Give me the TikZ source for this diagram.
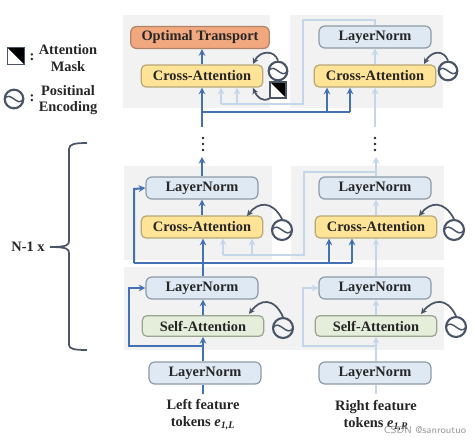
\documentclass[tikz,border=0pt]{standalone}
\usepackage{amsmath,amssymb}
\usepackage{fontspec}
\setmainfont{Liberation Serif}
\usetikzlibrary{positioning,arrows.meta,calc}
\definecolor{panelgray}{HTML}{F2F2F2}
\definecolor{darkflow}{HTML}{4470B4}
\definecolor{lightflow}{HTML}{C3D6EA}
\definecolor{iconslate}{HTML}{4A5568}
\definecolor{normfill}{HTML}{DFE9F4}
\definecolor{normedge}{HTML}{8E9AA8}
\definecolor{crossfill}{HTML}{FFE497}
\definecolor{crossedge}{HTML}{B8A878}
\definecolor{selffill}{HTML}{E4EEDB}
\definecolor{selfedge}{HTML}{9AA590}
\definecolor{otfill}{HTML}{F2A87E}
\definecolor{otedge}{HTML}{B08468}
\tikzset{
  every node/.style={font=\bfseries\fontsize{10.8}{12.4}\selectfont, text=black!85},
  block/.style={rounded corners=3.5pt, draw=#1, line width=0.9pt, inner sep=0pt, minimum height=16.5pt},
  normbox/.style={block=normedge, fill=normfill, minimum width=84pt, rounded corners=4.5pt},
  crossbox/.style={block=crossedge, fill=crossfill, minimum width=91pt},
  selfbox/.style={block=selfedge, fill=selffill, minimum width=91pt, minimum height=15.5pt},
  otbox/.style={block=otedge, fill=otfill, minimum width=104pt, rounded corners=4.5pt},
  panel/.style={fill=panelgray, draw=none},
  darkline/.style={darkflow, line width=1.5pt},
  lightline/.style={lightflow, line width=1.5pt},
  darkarrow/.style={darkline, -{Stealth[length=5pt,width=5pt]}},
  lightarrow/.style={lightline, -{Stealth[length=5pt,width=5pt]}},
  penc/.style={circle, draw=iconslate, line width=1.6pt, minimum size=#1, inner sep=0pt,
    path picture={\draw[iconslate, line width=1.1pt]
      (path picture bounding box.west) .. controls +(0.3*#1,0.5*#1) and +(-0.3*#1,-0.5*#1) .. (path picture bounding box.east);}},
  penc/.default=14pt,
  mask/.style={rectangle, draw=iconslate, line width=1.1pt, fill=white, minimum size=12pt, inner sep=0pt,
    path picture={\fill[black] (path picture bounding box.north west) -- (path picture bounding box.north east)
      -- (path picture bounding box.south east) -- cycle;}},
  curl/.style={iconslate, line width=1.3pt, -{Stealth[length=4.5pt,width=4.5pt]}},
  dotdot/.style={circle, fill=black!85, minimum size=2pt, inner sep=0pt},
}
\begin{document}
\begin{tikzpicture}[x=0.75pt,y=-0.75pt]
  \useasboundingbox (0,0) rectangle (474,439);
  % Gray panels
  \fill[panel] (123,15) rectangle (270,108);
  \fill[panel] (290,15) rectangle (443,108);
  \fill[panel] (124,166) rectangle (272,260);
  \fill[panel] (291,166) rectangle (444,260);
  \fill[panel] (124,267) rectangle (444,350);
  % Free ends of the flows
  \coordinate (inL) at (203,394);
  \coordinate (inR) at (376,394);
  \coordinate (topL) at (202,127);
  \coordinate (topR) at (375,127);
  \coordinate (midL) at (202,157);
  \coordinate (midR) at (376,157);
  % Bottom row
  \node[normbox] (normInL) at (205,373) {LayerNorm};
  \node[normbox] (normInR) at (375,373) {LayerNorm};
  % Self-attention block
  \node[selfbox] (selfL) at (203,326) {Self-Attention};
  \node[selfbox] (selfR) at (376,326) {Self-Attention};
  \node[normbox] (normSelfL) at (202,288) {LayerNorm};
  \node[normbox] (normSelfR) at (375,288) {LayerNorm};
  % Middle cross-attention block
  \node[crossbox] (crossL) at (202,227) {Cross-Attention};
  \node[crossbox] (crossR) at (376,227) {Cross-Attention};
  \node[normbox] (normCrossL) at (202,188) {LayerNorm};
  \node[normbox] (normCrossR) at (375,188) {LayerNorm};
  % Top block
  \node[crossbox] (crossTopL) at (202,76) {Cross-Attention};
  \node[crossbox] (crossTopR) at (375,76) {Cross-Attention};
  \node[otbox] (ot) at (200,37.5) {Optimal Transport};
  \node[normbox] (normTop) at (375,37) {LayerNorm};
  % Dots between blocks
  \foreach \n/\xx/\yy in {a/203/138,b/203/144,c/203/150,d/375/138,e/375/144,f/375/150}
    \node[dotdot] (dot\n) at (\xx,\yy) {};
  % Left flow, bottom part
  \draw[darkline] (inL) -- (normInL.south -| inL);
  \draw[darkarrow] (normInL.north -| inL) -- (selfL.south -| inL);
  \draw[darkarrow] (selfL.north -| inL) -- (normSelfL.south -| inL);
  \draw[darkarrow] (203,346) -- (129,346) -- (129,288) -- (normSelfL.west);
  % Right flow, bottom part
  \draw[lightline] (inR) -- (normInR.south -| inR);
  \draw[lightarrow] (normInR.north -| inR) -- (selfR.south -| inR);
  \draw[lightarrow] (selfR.north -| inR) -- (normSelfR.south -| inR);
  \draw[lightarrow] (376,346) -- (303,346) -- (303,288) -- (normSelfR.west);
  % Middle block, right flow
  \draw[lightarrow] (normSelfR.north -| inR) -- (crossR.south -| inR);
  \draw[lightarrow] (crossR.north -| inR) -- (normCrossR.south -| inR);
  \draw[lightarrow] (normCrossR.north -| inR) -- (midR);
  \draw[lightline] (376,172) -- (304,172) -- (304,255) -- (223,255);
  \draw[lightarrow] (223,255) -- (crossL.south -| 223,0);
  \draw[lightarrow] (252,255) -- (crossL.south -| 252,0);
  % Middle block, left flow
  \draw[darkarrow] (normSelfL.north -| inL) -- (crossL.south -| inL);
  \draw[darkarrow] (crossL.north -| midL) -- (normCrossL.south -| midL);
  \draw[darkarrow] (normCrossL.north -| midL) -- (midL);
  \draw[darkline] (352,263) -- (134,263);
  \draw[darkarrow] (134,263) -- (134,189) -- (normCrossL.west);
  \draw[darkarrow] (329,263) -- (crossR.south -| 329,0);
  \draw[darkarrow] (352,263) -- (crossR.south -| 352,0);
  % Top block, right flow
  \draw[lightarrow] (topR) -- (crossTopR.south -| topR);
  \draw[lightarrow] (crossTopR.north -| topR) -- (normTop.south -| topR);
  \draw[lightline] (normTop.north -| topR) -- (375,20) -- (303,20) -- (303,104) -- (221,104);
  \draw[lightarrow] (221,104) -- (crossTopL.south -| 221,0);
  \draw[lightarrow] (237,104) -- (crossTopL.south -| 237,0);
  % Top block, left flow
  \draw[darkarrow] (topL) -- (crossTopL.south -| topL);
  \draw[darkarrow] (crossTopL.north -| topL) -- (ot.south -| topL);
  \draw[darkline] (350,112) -- (202,112);
  \draw[darkarrow] (327,112) -- (crossTopR.south -| 327,0);
  \draw[darkarrow] (350,112) -- (crossTopR.south -| 350,0);
  % Positional encodings and mask
  \node[penc=14pt] (encTopL) at (278,71) {};
  \node[penc=14pt] (encTopR) at (448,71) {};
  \node[mask] (maskTop) at (278,90) {};
  \node[penc=15pt] (encCrossL) at (282,230) {};
  \node[penc=15pt] (encCrossR) at (454,230) {};
  \node[penc=15pt] (encSelfL) at (283,328) {};
  \node[penc=15pt] (encSelfR) at (456,327) {};
  \draw[curl] (encTopL.north) .. controls (275,50) and (260,50) .. (253,64);
  \draw[curl] (maskTop.south west) .. controls (262,102) and (257,97) .. (253,88);
  \draw[curl] (encTopR.north) .. controls (444,50) and (432,50) .. (424,64);
  \draw[curl] (encCrossL.north) .. controls (272,200) and (258,202) .. (247,216);
  \draw[curl] (encCrossR.north) .. controls (444,200) and (430,202) .. (419,216);
  \draw[curl] (encSelfL.north) .. controls (274,297) and (260,299) .. (249,314);
  \draw[curl] (encSelfR.north) .. controls (447,297) and (433,299) .. (421,314);
  % Legend
  \node[mask, minimum size=12.5pt] (maskLegend) at (16,56) {};
  \node (colonMask) at (32,57) {:};
  \node[align=center] (maskLabel) at (68,58) {Attention\\Mask};
  \node[penc=14pt] (encLegend) at (14,99) {};
  \node (colonEnc) at (32,98) {:};
  \node[align=center] (encLabel) at (68,100) {Positinal\\Encoding};
  % Repeat brace
  \node (repeatLabel) at (28,247) {N-1 x};
  \draw[iconslate, line width=1.3pt] (87,143) .. controls (75,143) and (69,144) .. (69,149) -- (69,241)
    .. controls (69,245) and (67,247) .. (50,247) .. controls (67,247) and (69,249) .. (69,253) -- (69,345)
    .. controls (69,349) and (75,350) .. (87,350);
  % Input labels
  \node[align=center] (tokensL) at (203,415) {Left feature\\tokens \textit{e\textsubscript{1,L}}};
  \node[align=center] (tokensR) at (376,416) {Right feature\\tokens \textit{e\textsubscript{1,R}}};
  \node[font=\sffamily\fontsize{7.5}{9}\selectfont, text=gray!80] (mark) at (425,430) {CSDN @sanroutuo};
\end{tikzpicture}
\end{document}
